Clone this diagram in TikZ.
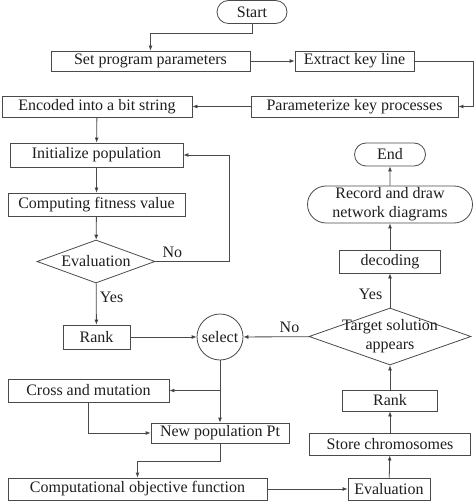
\documentclass[tikz,border=0pt]{standalone}
\usepackage{fontspec}
\setmainfont{Liberation Serif}
\usetikzlibrary{shapes.geometric,shapes.misc,arrows.meta}
\definecolor{lncol}{HTML}{4A4A4A}
\definecolor{txcol}{HTML}{1E1E1E}

\begin{document}
\begin{tikzpicture}[x=1pt, y=-1pt,
    every node/.style={font=\fontsize{16}{19}\selectfont, text=txcol},
    box/.style={draw=lncol, line width=0.8pt, rectangle, inner sep=1pt},
    term/.style={draw=lncol, line width=0.8pt, rounded rectangle, inner sep=1pt},
    cond/.style={draw=lncol, line width=0.8pt, diamond, aspect=2.7, inner sep=0pt},
    conn/.style={draw=lncol, line width=0.8pt, -{Latex[length=5pt,width=4pt]}}]

    \useasboundingbox (0,0) rectangle (474,502);

    % left column
    \node (s0) [term, minimum width=72pt, minimum height=23pt] at (252, 12) {Start};
    \node (s1) [box, minimum width=199pt, minimum height=20pt] at (150.5, 61) {Set program parameters};
    \node (a1) [box, minimum width=190pt, minimum height=21pt] at (97, 106.5) {Encoded into a bit string};
    \node (a2) [box, minimum width=173pt, minimum height=24pt] at (96.5, 155) {Initialize population};
    \node (a3) [box, minimum width=177pt, minimum height=23pt] at (96.5, 204.5) {Computing fitness value};
    \node (a4) [cond, minimum width=118pt, minimum height=43pt] at (96, 261.5) {Evaluation};
    \node (a5) [box, minimum width=67pt, minimum height=24pt] at (96.5, 337) {Rank};
    \node (a6) [circle, draw=lncol, line width=0.8pt, inner sep=0pt, minimum size=46pt] at (220, 337) {select};
    \node (a7) [box, minimum width=161pt, minimum height=23pt] at (88.5, 390.5) {Cross and mutation};
    \node (a8) [box, minimum width=138pt, minimum height=20pt] at (220, 433) {New population Pt};
    \node (a9) [box, minimum width=259pt, minimum height=22pt] at (137.5, 489) {Computational objective function};

    % right column
    \node (b1) [box, minimum width=119pt, minimum height=20pt] at (354.5, 61) {Extract key line};
    \node (b2) [box, minimum width=207pt, minimum height=21pt] at (354.5, 106.5) {Parameterize key processes};
    \node (e0) [term, minimum width=73pt, minimum height=23pt] at (390, 154.5) {End};
    \node (b3) [term, minimum width=167pt, minimum height=37pt, align=center] at (390, 204.5) {Record and draw\\network diagrams};
    \node (b4) [box, minimum width=101pt, minimum height=23pt] at (390, 261.5) {decoding};
    \node (b5) [cond, minimum width=162pt, minimum height=57pt,
        label={[align=center]center:Target solution\\appears}] at (390, 336.5) {};
    \node (b6) [box, minimum width=95pt, minimum height=21pt] at (390, 400.5) {Rank};
    \node (b7) [box, minimum width=161pt, minimum height=22pt] at (390, 444) {Store chromosomes};
    \node (b8) [box, minimum width=82pt, minimum height=22pt] at (389, 489) {Evaluation};

    \coordinate (c0) at (473, 61);
    \coordinate (c1) at (229, 261.5);

    \draw[conn] (s0.south) -- ++(0,10) -| (s1);
    \draw[conn] (b1) -- (c0) |- (b2);
    \draw[conn] (a4) -- node[above, pos=0.23] {No} (c1) |- (a2);
    \draw[conn] (a6 |- a7) -- (a7);
    \draw[conn] (a7) |- (a8);
    \draw[conn] (a8.south) -- ++(0,18) -| (a9);

    \path[conn]
    (s1) edge (b1)
    (b2) edge (a1)
    (a1) edge (a2)
    (a2) edge (a3)
    (a3) edge (a4)
    (a4) edge node[right, pos=0.35] {Yes} (a5)
    (a5) edge (a6)
    (b5) edge node[above, pos=0.3] {No} (a6)
    (a6) edge (a8)
    (a9) edge (b8)
    (b8) edge (b7)
    (b7) edge (b6)
    (b6) edge (b5)
    (b5) edge node[left=4pt, pos=0.4] {Yes} (b4)
    (b4) edge (b3)
    (b3) edge (e0);

\end{tikzpicture}
\end{document}
